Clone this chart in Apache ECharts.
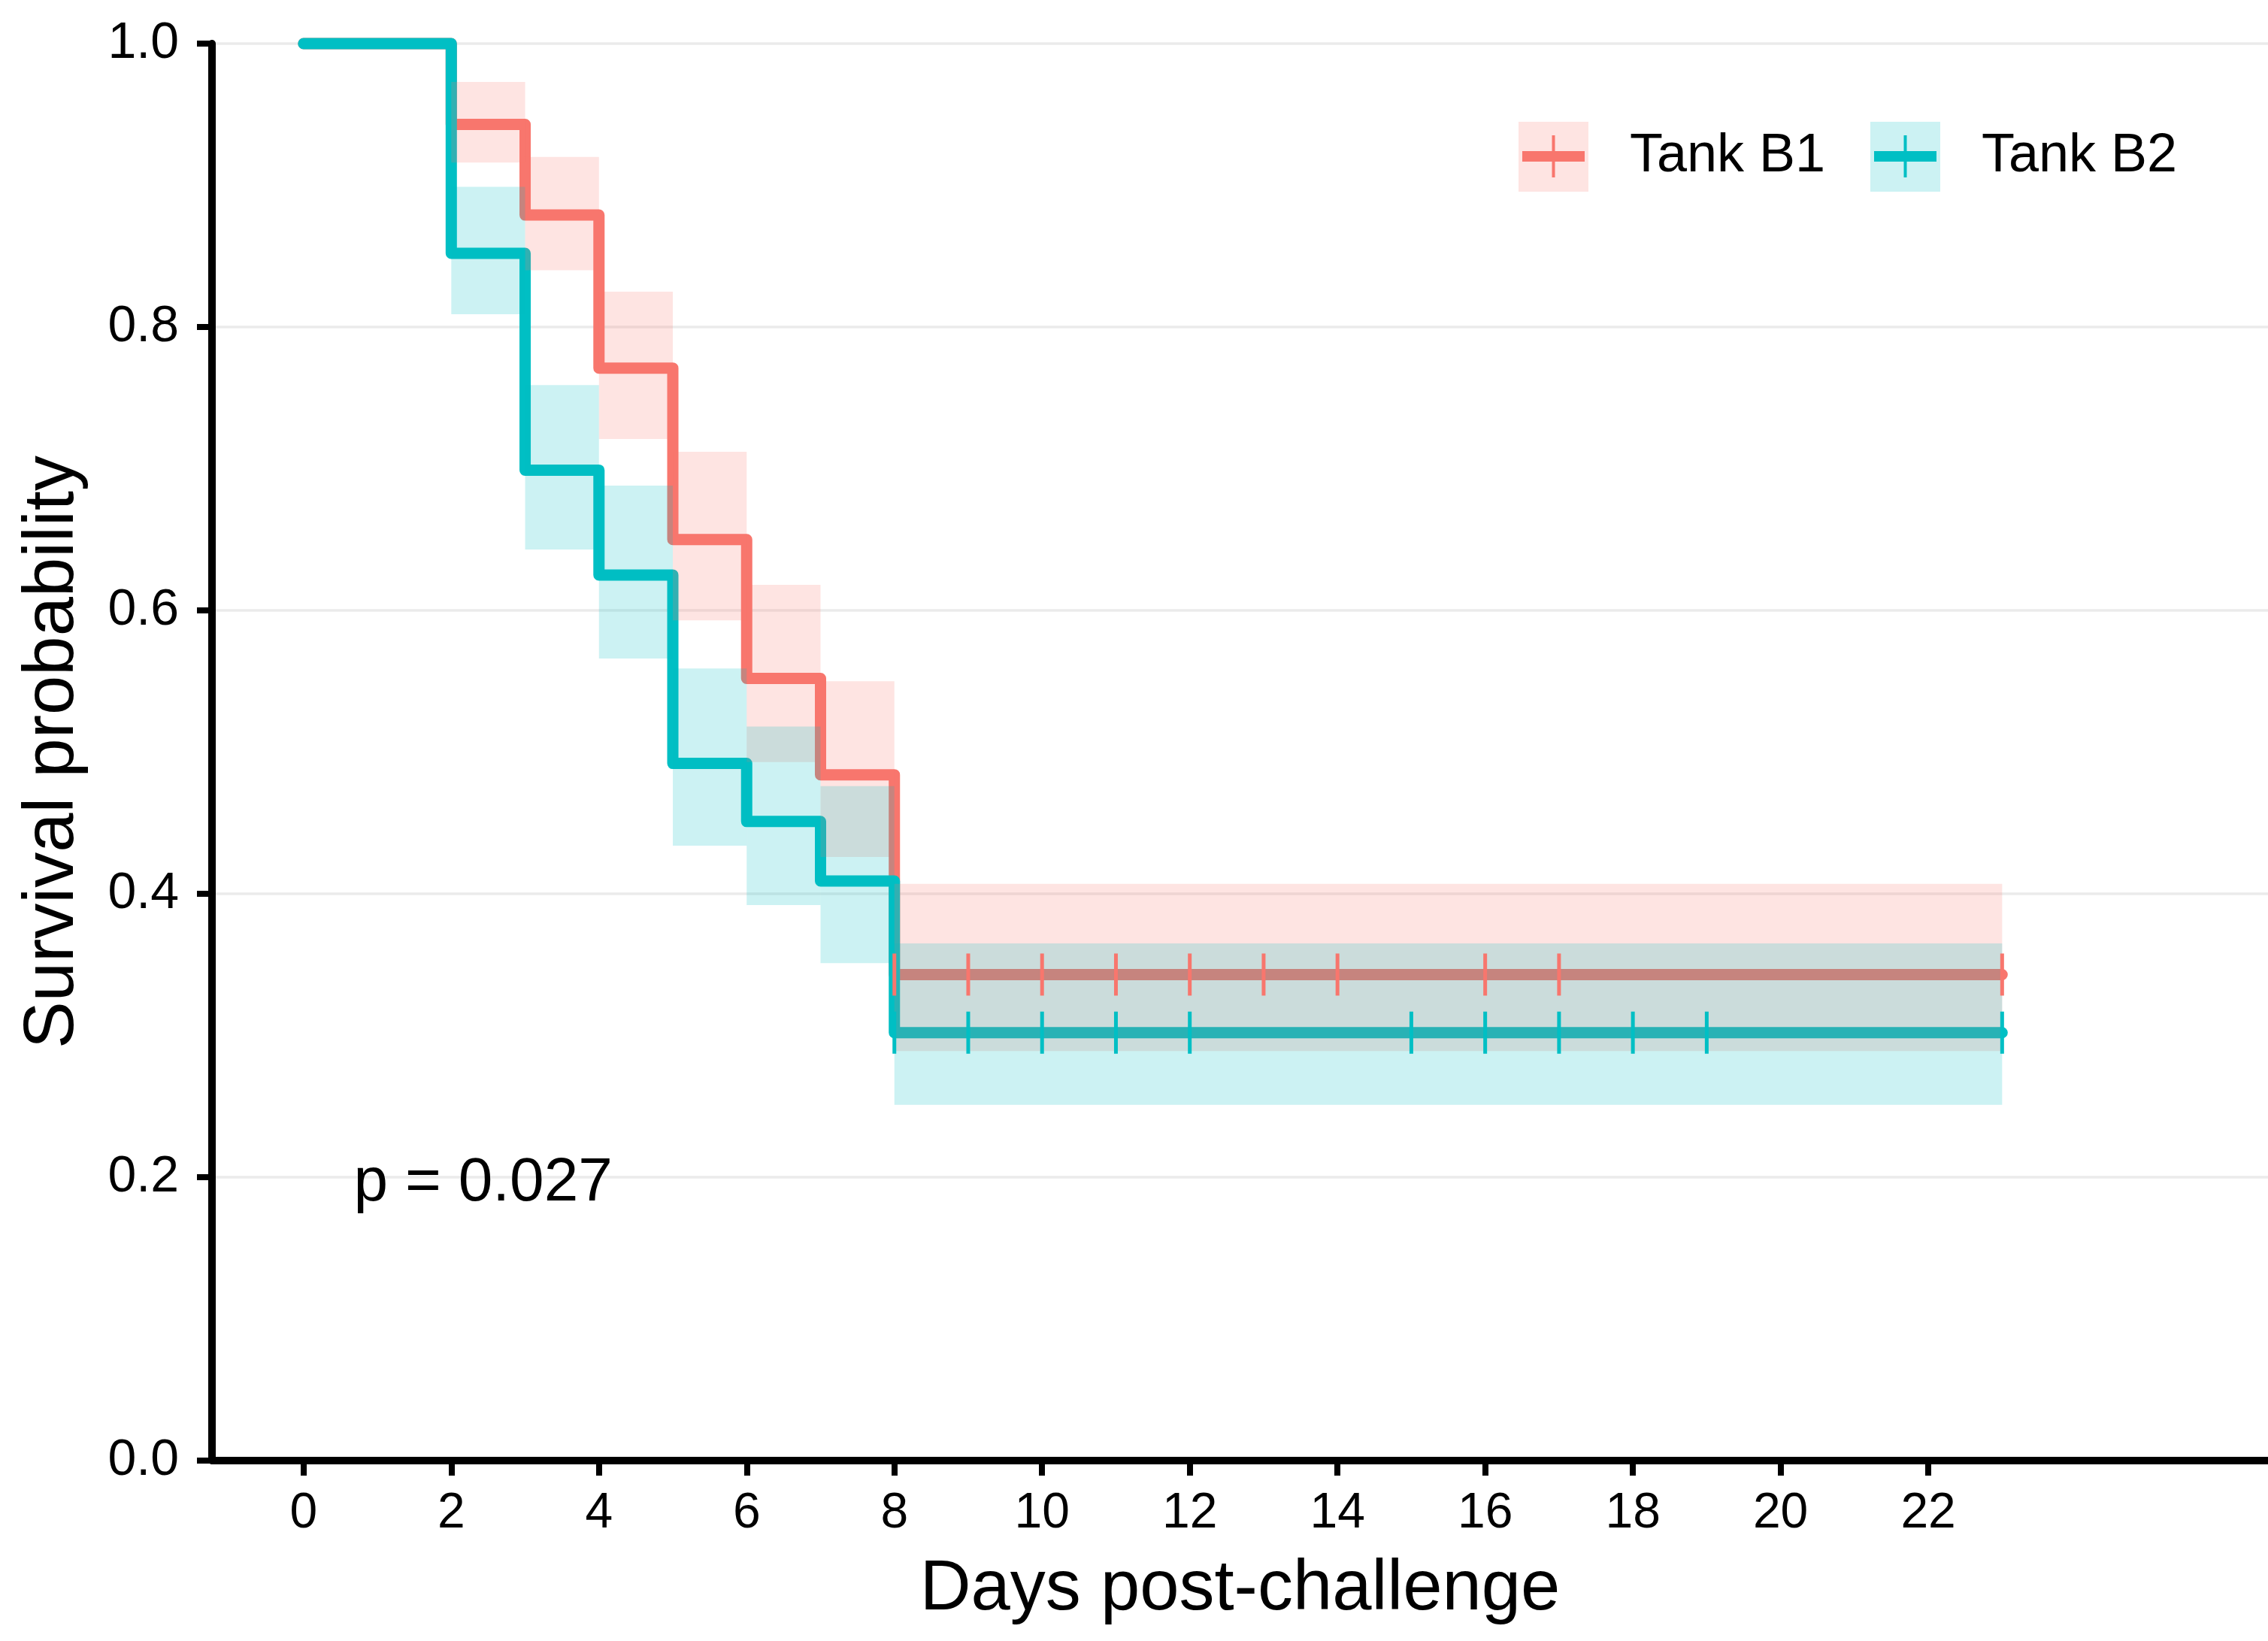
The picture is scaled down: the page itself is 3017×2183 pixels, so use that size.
<!DOCTYPE html>
<html>
<head>
<meta charset="utf-8">
<script src="https://cdn.jsdelivr.net/npm/echarts@6/dist/echarts.min.js"></script>
<style>
  html, body { margin: 0; padding: 0; background: #fff; }
  #km { width: 3017px; height: 2183px; }
</style>
</head>
<body>
<div id="km"></div>
<script>
// Kaplan-Meier estimates (step values start at each day)
var days     = [0, 2, 3, 4, 5, 6, 7, 8, 23];
var b1Surv   = [1, 0.943, 0.879, 0.771, 0.650, 0.552, 0.484, 0.343, 0.343];
var b1Lower  = [1, 0.916, 0.840, 0.721, 0.593, 0.493, 0.426, 0.289, 0.289];
var b1Upper  = [1, 0.973, 0.920, 0.825, 0.712, 0.618, 0.550, 0.407, 0.407];
var b2Surv   = [1, 0.852, 0.699, 0.625, 0.492, 0.451, 0.409, 0.302, 0.302];
var b2Lower  = [1, 0.809, 0.643, 0.566, 0.434, 0.392, 0.351, 0.251, 0.251];
var b2Upper  = [1, 0.899, 0.759, 0.688, 0.559, 0.518, 0.476, 0.365, 0.365];
// censoring times
var b1Censor = [8, 9, 10, 11, 12, 13, 14, 16, 17, 23];
var b2Censor = [8, 9, 10, 11, 12, 15, 16, 17, 18, 19, 23];
var groupNames = ['Tank B1', 'Tank B2'];
var xTicks = [0, 2, 4, 6, 8, 10, 12, 14, 16, 18, 20, 22];
var pText = 'p = 0.027';
var pPos = [0.68, 0.2];

var RED = '#F8766D', CYAN = '#00BFC4';
var RED_CI = 'rgba(248,118,109,0.2)', CYAN_CI = 'rgba(0,191,196,0.2)';
var FONT = '"Liberation Sans", Arial, sans-serif';

function curve(surv) {
    return days.map(function (d, i) { return [d, surv[i]]; });
}
function band(lo, hi) {
    var out = [];
    for (var i = 1; i < days.length - 1; i++) {
        out.push([days[i], days[i + 1], lo[i], hi[i]]);
    }
    return out;
}
function survAt(surv, t) {
    var v = surv[0];
    for (var i = 0; i < days.length; i++) { if (days[i] <= t) v = surv[i]; }
    return v;
}
function censor(times, surv) {
    return times.map(function (t) { return [t, survAt(surv, t)]; });
}
function ribbonItem(color) {
    return function (params, api) {
        var a = api.coord([api.value(0), api.value(3)]);
        var b = api.coord([api.value(1), api.value(2)]);
        return {
            type: 'rect',
            shape: { x: a[0], y: a[1], width: b[0] - a[0], height: b[1] - a[1] },
            style: { fill: color }
        };
    };
}

function legendKey(x, color, ciColor, name) {
    var cy = 208;
    return {
        type: 'group',
        children: [
            { type: 'rect', shape: { x: x, y: cy - 46, width: 93, height: 93 }, style: { fill: ciColor } },
            { type: 'line', shape: { x1: x + 5, y1: cy, x2: x + 88, y2: cy }, style: { stroke: color, lineWidth: 14 } },
            { type: 'line', shape: { x1: x + 46.5, y1: cy - 28, x2: x + 46.5, y2: cy + 28 }, style: { stroke: color, lineWidth: 4 } },
            { type: 'text', x: x + 148, y: cy, style: { text: name, font: '72px ' + FONT, fill: '#000', verticalAlign: 'middle', align: 'left' } }
        ]
    };
}

var chart = echarts.init(document.getElementById('km'));

var option = {
    backgroundColor: '#fff',
    animation: false,
    textStyle: { fontFamily: FONT },
    grid: { left: 282, right: 0, top: 58, bottom: 240, containLabel: false, outerBoundsMode: 'none' },
    xAxis: {
        type: 'value',
        min: -1.24,
        max: 26.6,
        name: 'Days post-challenge',
        nameLocation: 'middle',
        nameGap: 125,
        nameMoveOverlap: false,
        nameTextStyle: { fontSize: 94, color: '#000', fontFamily: FONT },
        axisLine: { show: true, onZero: false, lineStyle: { color: '#000', width: 10 } },
        axisTick: { show: true, customValues: xTicks, length: 20, lineStyle: { color: '#000', width: 8 } },
        axisLabel: { customValues: xTicks, fontSize: 66, color: '#000', margin: 38, fontFamily: FONT },
        splitLine: { show: false }
    },
    yAxis: {
        type: 'value',
        min: 0,
        max: 1,
        interval: 0.2,
        name: 'Survival probability',
        nameLocation: 'middle',
        nameGap: 164,
        nameMoveOverlap: false,
        nameRotate: 90,
        nameTextStyle: { fontSize: 94, color: '#000', fontFamily: FONT },
        axisLine: { show: true, onZero: false, lineStyle: { color: '#000', width: 10 } },
        axisTick: { show: true, length: 20, lineStyle: { color: '#000', width: 8 } },
        axisLabel: {
            fontSize: 68, color: '#000', margin: 44, fontFamily: FONT,
            formatter: function (v) { return v.toFixed(1); }
        },
        splitLine: { show: true, lineStyle: { color: '#EBEBEB', width: 3.5 } }
    },
    graphic: [
        legendKey(2020, RED, RED_CI, groupNames[0]),
        legendKey(2488, CYAN, CYAN_CI, groupNames[1])
    ],
    series: [
        {
            name: groupNames[0], type: 'line', step: 'end', z: 2, clip: false,
            showSymbol: false, symbol: 'none',
            lineStyle: { color: RED, width: 15, join: 'round', cap: 'round' },
            data: curve(b1Surv)
        },
        {
            name: groupNames[1], type: 'line', step: 'end', z: 2, clip: false,
            showSymbol: false, symbol: 'none',
            lineStyle: { color: CYAN, width: 15, join: 'round', cap: 'round' },
            data: curve(b2Surv)
        },
        {
            type: 'custom', z: 3, clip: false,
            renderItem: ribbonItem(RED_CI),
            encode: { x: [0, 1], y: [2, 3] },
            data: band(b1Lower, b1Upper)
        },
        {
            type: 'custom', z: 3, clip: false,
            renderItem: ribbonItem(CYAN_CI),
            encode: { x: [0, 1], y: [2, 3] },
            data: band(b2Lower, b2Upper)
        },
        {
            type: 'scatter', z: 4, symbol: 'rect', symbolSize: [5, 56],
            itemStyle: { color: RED, opacity: 1 },
            data: censor(b1Censor, b1Surv)
        },
        {
            type: 'scatter', z: 4, symbol: 'rect', symbolSize: [5, 56],
            itemStyle: { color: CYAN, opacity: 1 },
            data: censor(b2Censor, b2Surv)
        },
        {
            type: 'custom', z: 5,
            renderItem: function (params, api) {
                var p = api.coord([api.value(0), api.value(1)]);
                return {
                    type: 'text', x: p[0], y: p[1] + 8,
                    style: { text: pText, font: '82px ' + FONT, fill: '#000', align: 'left', verticalAlign: 'middle' }
                };
            },
            data: [pPos]
        }
    ]
};

chart.setOption(option);
</script>
</body>
</html>
